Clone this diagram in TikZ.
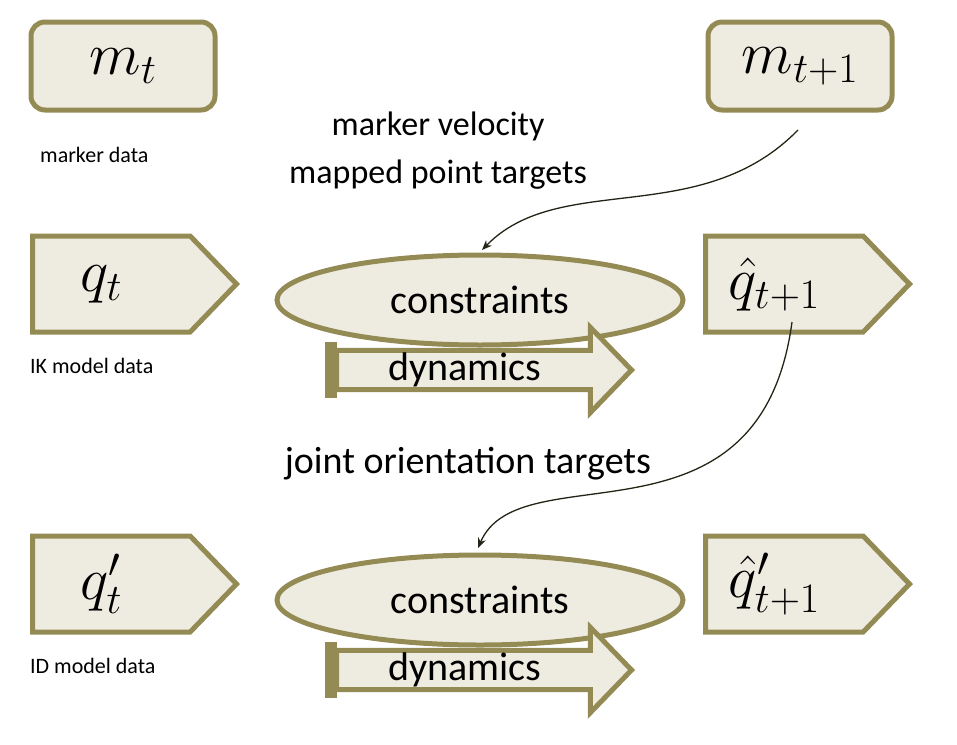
\documentclass[tikz,border=0pt]{standalone}
\usepackage{fix-cm}
\usepackage{fontspec}
\setmainfont{Carlito}
\usetikzlibrary{shapes.symbols,shapes.arrows,shapes.geometric,positioning,arrows.meta}
\definecolor{tikz-olive}{HTML}{948A54}
\definecolor{tikz-fill}{HTML}{EEECE1}
\tikzset{every text node part/.style={align=center}}
\tikzstyle{box} = [draw=tikz-olive, fill=tikz-fill, line width=5pt, rounded corners=14pt, minimum width=184pt, minimum height=88pt, font={\fontsize{60}{60}\selectfont}]
\tikzstyle{state} = [signal, signal to=east, signal pointer angle=92, draw=tikz-olive, fill=tikz-fill, line width=5pt, minimum width=204pt, minimum height=96pt, inner xsep=0pt, anchor=west, font={\fontsize{60}{60}\selectfont}]
\tikzstyle{cons} = [ellipse, draw=tikz-olive, fill=tikz-fill, line width=5pt, minimum width=406pt, minimum height=90pt, font={\fontsize{40}{40}\selectfont}]
\tikzstyle{dyn} = [single arrow, single arrow head extend=23pt, single arrow tip angle=92, draw=tikz-olive, fill=tikz-fill, line width=5pt, minimum width=54pt, minimum height=295pt, inner sep=0pt, anchor=tip, font={\fontsize{40}{40}\selectfont}]
\tikzstyle{lbl} = [font={\fontsize{22}{22}\selectfont}, inner sep=0pt]
\tikzstyle{txt} = [font={\fontsize{34}{48}\selectfont}, inner sep=0pt]
\tikzstyle{ln} = [draw=black!75!tikz-olive, line width=1.3pt, -{Stealth[length=10pt,width=8pt]}]

\begin{document}
\begin{tikzpicture}[x=1pt, y=-1pt]
  \useasboundingbox (0,0) rectangle (957,744);
  % marker row
  \node[box] (mt) at (123,66) {$m_t$};
  \node[box] (mt1) at (800,66) {$m_{t+1}$};
  \node[lbl, anchor=west] (mdata) at (40,155) {marker data};
  \node[txt, anchor=west, align=left] (mtxt) at (289,151) {marker velocity\\mapped point targets};
  % IK row
  \node[state] (qt) at (30,284) {\hspace{20pt}$q_t$\hspace{40pt}};
  \node[cons] (c1) at (480,300) {constraints};
  \fill[tikz-olive] (325,342) rectangle (337,398);
  \node[dyn] (d1) at (635,370) {\hspace{-20pt}dynamics};
  \node[state] (qh) at (703,284) {\hspace{10pt}$\hat q_{t+1}$\hspace{30pt}};
  \node[lbl, anchor=west] (ikdata) at (30,366) {IK model data};
  \node[txt, font={\fontsize{38}{38}\selectfont}] (jtxt) at (468,464) {joint orientation targets};
  % ID row
  \node[state] (qp) at (30,584) {\hspace{20pt}$q'_t$\hspace{40pt}};
  \node[cons] (c2) at (480,600) {constraints};
  \fill[tikz-olive] (325,642) rectangle (337,698);
  \node[dyn] (d2) at (635,670) {\hspace{-20pt}dynamics};
  \node[state] (qph) at (703,584) {\hspace{10pt}$\hat q'_{t+1}$\hspace{30pt}};
  \node[lbl, anchor=west] (iddata) at (30,666) {ID model data};
  % connectors
  \coordinate (s1) at (798,130);
  \coordinate (e1) at (482,250);
  \coordinate (s2) at (792,322);
  \coordinate (e2) at (478,548);
  \draw[ln] (s1) .. controls (700,230) and (560,170) .. (e1);
  \draw[ln] (s2) .. controls (760,560) and (520,450) .. (e2);
\end{tikzpicture}
\end{document}
